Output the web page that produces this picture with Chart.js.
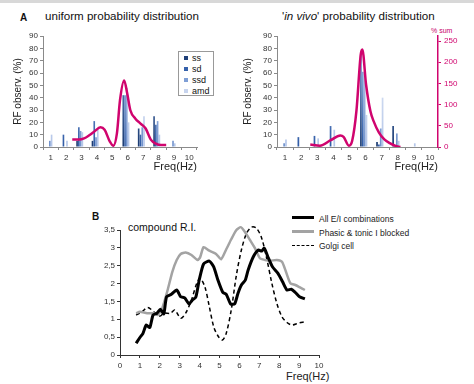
<!DOCTYPE html>
<html>
<head>
<meta charset="utf-8">
<script src="https://cdn.jsdelivr.net/npm/chart.js@4.4.0/dist/chart.umd.min.js"></script>
<style>
  body { margin: 0; width: 474px; height: 384px; background: #fff; position: relative; overflow: hidden;
         font-family: "Liberation Sans", Arial, sans-serif; color: #111; }
  canvas { position: absolute; }
  .t { position: absolute; white-space: nowrap; }
  .strip { position: absolute; left: 0; top: 0; width: 474px; height: 3px; background: #d8d8d8; }
  .leg { position: absolute; left: 178px; top: 51px; width: 36px; height: 45px; border: 1px solid #999;
         font-size: 9px; line-height: 11px; padding: 1px 0 0 5px; box-sizing: border-box; }
  .leg span { display: inline-block; width: 4px; height: 4px; margin-right: 4px; vertical-align: 1px; }
  .bl { position: absolute; font-size: 8.5px; color: #222; }
  .bl i { display: inline-block; width: 22px; vertical-align: 3px; margin-right: 5px; }
</style>
</head>
<body>
<div class="strip"></div>
<div class="t" style="left:20px;top:12px;font-size:10px;font-weight:bold">A</div>
<div class="t" style="left:45px;top:9px;font-size:11.6px">uniform probability distribution</div>
<div class="t" style="left:282px;top:9px;font-size:11.6px">'<i>in vivo</i>' probability distribution</div>
<div class="t" style="left:431px;top:27px;font-size:7px;color:#c8006a">% sum</div>
<div class="leg">
  <div><span style="background:#1f3f78"></span>ss</div>
  <div><span style="background:#3561ab"></span>sd</div>
  <div><span style="background:#7f9fd6"></span>ssd</div>
  <div><span style="background:#c7d4ee"></span>amd</div>
</div>
<div class="t" style="left:92px;top:211px;font-size:10px;font-weight:bold">B</div>
<div class="t" style="left:128px;top:221px;font-size:10.5px">compound R.I.</div>
<div class="bl" style="left:292px;top:214px"><i style="border-top:3.5px solid #000"></i>All E/I combinations</div>
<div class="bl" style="left:292px;top:228px"><i style="border-top:3px solid #a3a3a3"></i>Phasic &amp; tonic I blocked</div>
<div class="bl" style="left:292px;top:241px"><i style="border-top:1.6px dashed #000"></i>Golgi cell</div>
<div class="t" style="left:286px;top:370px;font-size:11px;color:#222">Freq(Hz)</div>

<canvas id="uni" width="205" height="150" style="left:0;top:28px"></canvas>
<canvas id="vivo" width="239" height="150" style="left:235px;top:28px"></canvas>
<canvas id="ri" width="262" height="166" style="left:70px;top:218px"></canvas>

<script>
const freqLabels = ['1', '2', '3', '4', '5', '6', '7', '8', '9', '10'];

// uniform probability distribution (RF observ. %)
const uniSS  = [0, 0, 5, 5, 0, 42, 15, 25, 0, 0];
const uniSD  = [0, 10, 16, 21, 0, 42, 10, 18, 0, 0];
const uniSSD = [5, 0, 13, 8, 0, 48, 16, 21, 5, 0];
const uniAMD = [10, 5, 12, 15, 1, 20, 25, 10, 3, 0];
const uniCurveX = [0.85, 1.5, 2, 2.5, 3, 3.6, 4, 4.5, 4.85, 5.2, 5.5, 5.9, 6.2, 6.5, 7, 7.5, 8, 8.5, 9, 9.5, 10];
const uniCurveY = [6, 6, 7, 9.5, 12.6, 16, 14, 4.6, 1, 11, 38, 54, 43.5, 30, 23, 19, 15, 6, 2.7, 1.6, 1.6];

// in vivo probability distribution
const vivoSS  = [0, 0, 0, 0, 0, 77, 4, 17, 0, 0];
const vivoSD  = [0, 8, 9, 17, 0, 61, 2, 0, 0, 0];
const vivoSSD = [3, 0, 0, 0, 0, 61, 15, 11, 0, 0];
const vivoAMD = [6, 0, 7, 14, 0, 26, 40, 5, 3, 0];
const vivoCurveX = [1.1, 2, 3, 3.9, 4.2, 4.7, 5, 5.4, 5.8, 5.95, 6.3, 6.7, 7, 7.5, 8, 8.5, 9, 9.5];
const vivoCurveY = [6, 3, 16, 27, 24, 3, 14, 85, 218, 230, 147, 85, 61, 34, 18, 9, 3, 0];

// compound R.I.
const allX = [0.81, 1.0, 1.15, 1.32, 1.5, 1.66, 1.86, 2.03, 2.2, 2.34, 2.58, 2.85, 3.05, 3.25, 3.47, 3.64, 3.81, 3.98, 4.2, 4.49, 4.71, 4.92, 5.17, 5.34, 5.56, 5.76, 5.93, 6.1, 6.3, 6.44, 6.7, 6.95, 7.12, 7.25, 7.46, 7.66, 7.93, 8.17, 8.39, 8.61, 8.81, 9.02, 9.29];
const allY = [0.33, 0.49, 0.6, 0.84, 0.77, 1.12, 1.17, 1.28, 1.15, 1.63, 1.7, 1.82, 1.63, 1.6, 1.43, 1.54, 1.62, 2.1, 2.55, 2.63, 2.47, 2.1, 1.75, 1.7, 1.43, 1.43, 1.73, 1.96, 2.1, 2.38, 2.75, 2.94, 2.91, 2.99, 2.71, 2.47, 2.29, 2.05, 1.82, 1.84, 1.75, 1.63, 1.57];
const blockedX = [0.81, 1.0, 1.36, 1.7, 1.9, 2.12, 2.37, 2.63, 2.85, 3.05, 3.3, 3.59, 3.9, 4.03, 4.2, 4.49, 4.83, 5.08, 5.34, 5.59, 5.85, 6.07, 6.27, 6.53, 6.78, 7.03, 7.29, 7.54, 7.88, 8.14, 8.34, 8.56, 8.81, 9.02, 9.29];
const blockedY = [1.17, 1.21, 1.17, 1.17, 1.12, 1.31, 1.77, 2.33, 2.66, 2.83, 2.87, 2.8, 2.66, 2.74, 3.02, 2.92, 2.83, 2.68, 2.96, 3.24, 3.5, 3.58, 3.45, 3.22, 2.99, 2.71, 2.66, 2.64, 2.66, 2.61, 2.33, 2.01, 1.96, 1.9, 1.82];
const golgiX = [0.81, 1.1, 1.39, 1.7, 2.0, 2.2, 2.54, 2.75, 3.05, 3.3, 3.59, 3.86, 4.03, 4.27, 4.49, 4.71, 4.95, 5.15, 5.34, 5.59, 5.85, 6.1, 6.36, 6.61, 6.86, 7.12, 7.37, 7.63, 7.88, 8.14, 8.39, 8.64, 8.95, 9.29];
const golgiY = [1.12, 1.21, 1.33, 1.21, 1.09, 1.17, 1.17, 1.26, 1.03, 1.17, 1.54, 2.01, 2.15, 1.9, 1.35, 0.79, 0.51, 0.42, 0.61, 1.26, 2.24, 2.94, 3.41, 3.58, 3.55, 3.27, 2.71, 2.01, 1.45, 1.07, 0.91, 0.84, 0.89, 0.93];

const pink = '#d0046e';
// [bottom, top] of each bar's vertical fade
const barColors = [['#1a3a70', '#6a8fcc'], ['#2e5aa5', '#98b4e2'], ['#6f91cc', '#bccdec'], ['#b3c5e8', '#e2e9f6']];
const tickFont = { size: 8, family: '"Liberation Sans", Arial, sans-serif' };
const axisGray = '#8a8a8a';

const toPoints = (xs, ys) => xs.map((x, i) => ({ x: x, y: ys[i] }));

const fade = (pair) => (ctx) => {
  const area = ctx.chart.chartArea;
  if (!area) return pair[0];
  const g = ctx.chart.ctx.createLinearGradient(0, area.bottom, 0, area.top + 20);
  g.addColorStop(0, pair[0]);
  g.addColorStop(1, pair[1]);
  return g;
};

function makeBarChart(id, series, curveX, curveY, withSum) {
  const datasets = [{
    type: 'line',
    data: toPoints(curveX, curveY),
    xAxisID: 'xl',
    yAxisID: withSum ? 'ys' : 'y',
    borderColor: pink,
    borderWidth: 2.5,
    pointRadius: 0,
    cubicInterpolationMode: 'monotone',
    order: 0,
  }];
  ['ss', 'sd', 'ssd', 'amd'].forEach((name, i) => {
    datasets.push({
      label: name,
      data: series[i],
      xAxisID: 'x',
      yAxisID: 'y',
      backgroundColor: fade(barColors[i]),
      categoryPercentage: 0.92,
      barPercentage: 0.92,
      order: 1,
    });
  });

  const scales = {
    x: {
      type: 'category',
      offset: true,
      grid: { offset: true, drawOnChartArea: false, tickLength: 3, color: axisGray },
      border: { color: axisGray },
      ticks: { font: tickFont, color: '#333', padding: 3, maxRotation: 0, autoSkip: false },
      title: { display: true, text: 'Freq(Hz)', align: 'end', color: '#222',
               font: { size: 11, family: tickFont.family }, padding: { top: 5 } },
      afterFit: (s) => { s.height = 31; },
    },
    xl: { type: 'linear', display: false, min: 0.5, max: 10.5 },
    y: {
      min: 0, max: 90,
      ticks: { stepSize: 10, font: tickFont, color: '#333', padding: 2, autoSkip: false },
      grid: { drawOnChartArea: false, tickLength: 3, color: axisGray },
      border: { color: axisGray },
      title: { display: true, text: 'RF observ. (%)', color: '#222',
               font: { size: 10, family: tickFont.family }, padding: { top: withSum ? 7 : 12, bottom: 0 } },
      afterFit: (s) => { s.width = withSum ? 42 : 43; },
    },
  };
  if (withSum) {
    scales.ys = {
      position: 'right',
      min: 0, max: 262,
      ticks: { stepSize: 50, includeBounds: false, autoSkip: false, font: tickFont, color: pink, padding: 3 },
      grid: { drawOnChartArea: false, tickLength: 3, color: pink },
      border: { color: pink, width: 1.5 },
      afterFit: (s) => { s.width = 36; },
    };
  }

  new Chart(document.getElementById(id), {
    type: 'bar',
    data: { labels: freqLabels, datasets: datasets },
    options: {
      responsive: false,
      animation: false,
      layout: { padding: { top: 8, right: withSum ? 0 : 8, left: 0, bottom: 0 } },
      plugins: { legend: { display: false }, tooltip: { enabled: false } },
      scales: scales,
    },
  });
}

makeBarChart('uni', [uniSS, uniSD, uniSSD, uniAMD], uniCurveX, uniCurveY, false);
makeBarChart('vivo', [vivoSS, vivoSD, vivoSSD, vivoAMD], vivoCurveX, vivoCurveY, true);

new Chart(document.getElementById('ri'), {
  type: 'line',
  data: {
    datasets: [
      { label: 'All E/I combinations', data: toPoints(allX, allY), borderColor: '#000', borderWidth: 3, pointRadius: 0, tension: 0.2, clip: false },
      { label: 'Phasic & tonic I blocked', data: toPoints(blockedX, blockedY), borderColor: '#a3a3a3', borderWidth: 2.5, pointRadius: 0, tension: 0.2, clip: false },
      { label: 'Golgi cell', data: toPoints(golgiX, golgiY), borderColor: '#000', borderWidth: 1.5, borderDash: [4, 3], pointRadius: 0, tension: 0.3, clip: false },
    ],
  },
  options: {
    responsive: false,
    animation: false,
    layout: { padding: { top: 12, right: 13, left: 0, bottom: 0 } },
    plugins: { legend: { display: false }, tooltip: { enabled: false } },
    scales: {
      x: {
        type: 'linear', min: 0, max: 10,
        ticks: { stepSize: 1, font: tickFont, color: '#333', padding: 3, autoSkip: false },
        grid: { drawOnChartArea: false, tickLength: 3, color: '#333' },
        border: { color: '#333' },
        afterFit: (s) => { s.height = 29; },
      },
      y: {
        min: 0, max: 3.5,
        ticks: { stepSize: 0.5, font: tickFont, color: '#333', padding: 2, autoSkip: false,
                 callback: (v) => String(v).replace('.', ',') },
        grid: { drawOnChartArea: false, tickLength: 3, color: '#333' },
        border: { color: '#333' },
        afterFit: (s) => { s.width = 50; },
      },
    },
  },
});
</script>
</body>
</html>
